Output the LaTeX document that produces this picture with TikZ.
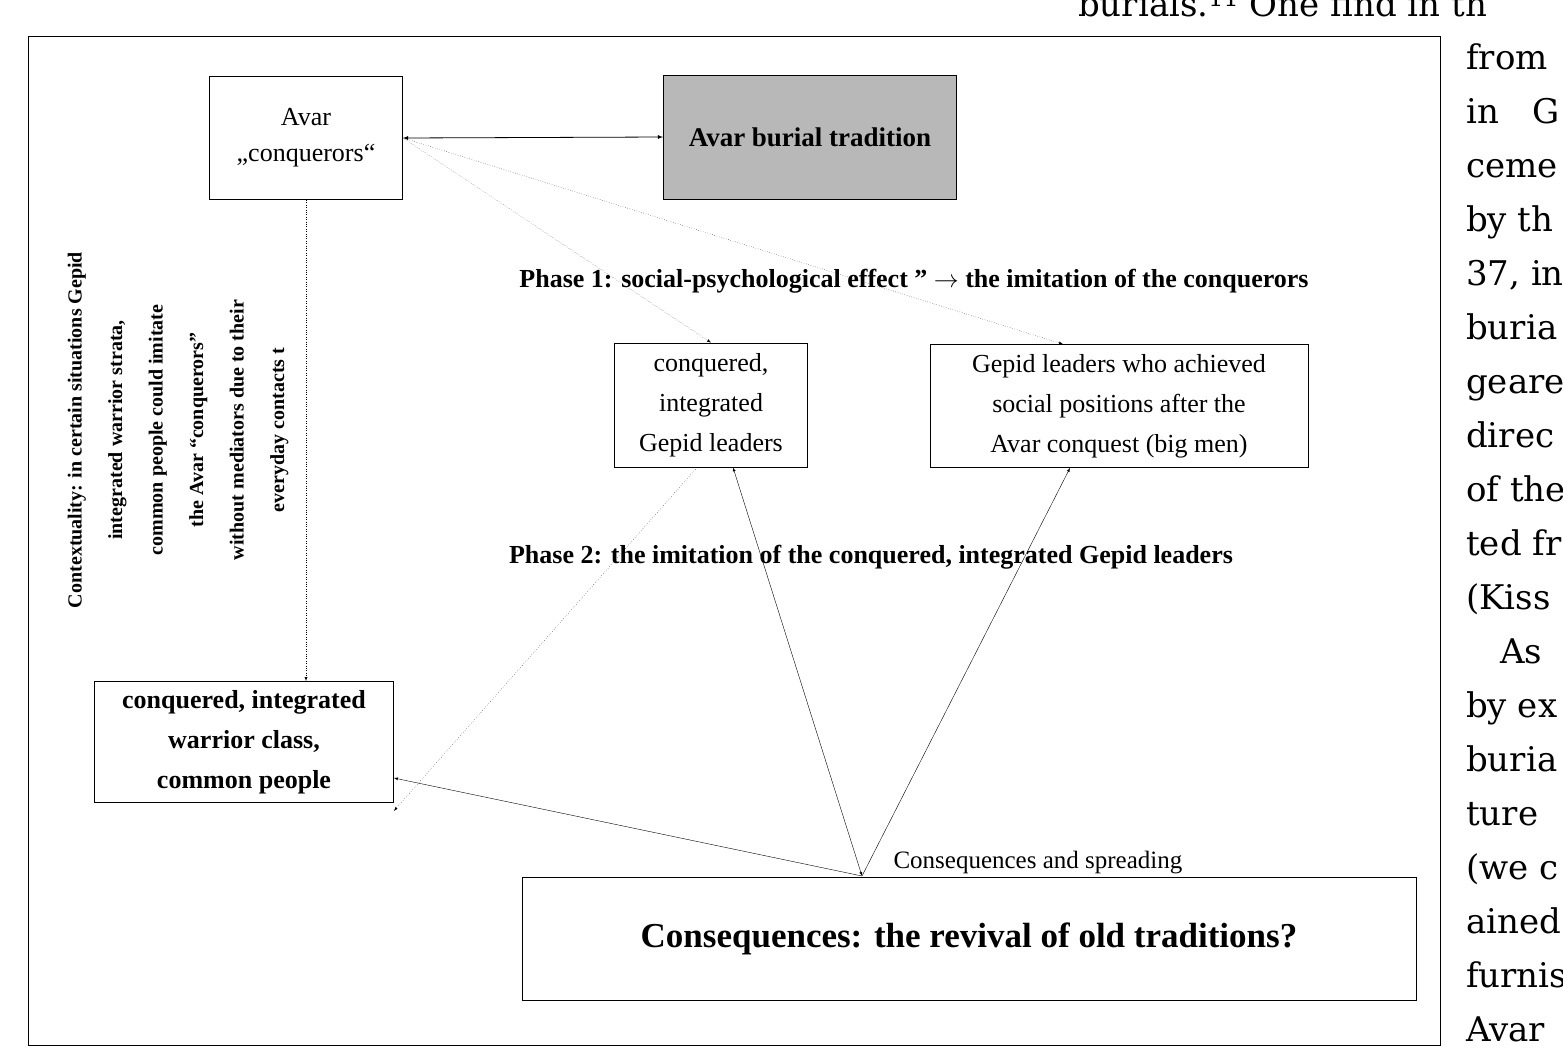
\documentclass[tikz,border=0pt]{standalone}
\usepackage{fontspec}
\setmainfont{Liberation Serif}
\newfontfamily\pagefont{DejaVu Serif}
\usetikzlibrary{positioning}

\begin{document}
\begin{tikzpicture}[x=1pt, y=-1pt, >=latex]
%

%%% frame and page
\useasboundingbox (0,0) rectangle (1563,1047);
\draw [thick] (28,36) rectangle (1440,1045);

%%% nodes and boxes

%%% AVAR
\node [rectangle, draw=black, thick, minimum width=193pt, minimum height=123pt, align=center, font=\fontsize{26}{36}\selectfont] (avar) at (306,138) {Avar\\ „conquerors“};
\node [rectangle, draw=black, thick, fill=black!28, minimum width=293pt, minimum height=124pt, align=center, font=\bfseries\fontsize{27}{36}\selectfont] (tradition) at (810,137) {Avar burial tradition};

%%% PHASE 1
\node [font=\bfseries\fontsize{26}{32}\selectfont] (phase1) at (914,281) {Phase 1: social-psychological effect '' $\rightarrow$ the imitation of the conquerors};

%%% GEPID LEADERS
\node [rectangle, draw=black, thick, minimum width=193pt, minimum height=124pt, align=center, font=\fontsize{26}{40}\selectfont] (gepid) at (711,405) {conquered,\\ integrated\\ Gepid leaders};
\node [rectangle, draw=black, thick, minimum width=378pt, minimum height=123pt, align=center, font=\fontsize{26}{40}\selectfont] (bigmen) at (1119,406) {Gepid leaders who achieved\\ social positions after the\\ Avar conquest (big men)};

%%% PHASE 2
\node [font=\bfseries\fontsize{26}{32}\selectfont] (phase2) at (871,557) {Phase 2: the imitation of the conquered, integrated Gepid leaders};

%%% CONTEXTUALITY
\node [rotate=90, align=center, font=\bfseries\fontsize{20}{40.5}\selectfont] (context) at (178,430) {Contextuality: in certain situations Gepid\\ integrated warrior strata,\\ common people could imitate\\ the Avar “conquerors”\\ without mediators due to their\\ everyday contacts t};

%%% WARRIOR CLASS
\node [rectangle, draw=black, thick, minimum width=299pt, minimum height=121pt, align=center, font=\bfseries\fontsize{26}{40}\selectfont] (warrior) at (244,742) {conquered, integrated\\ warrior class,\\ common people};

%%% CONSEQUENCES
\node [rectangle, draw=black, thick, minimum width=894pt, minimum height=123pt, align=center, font=\bfseries\fontsize{35}{40}\selectfont] (conseq) at (969,939) {Consequences: the revival of old traditions?};
\coordinate (apex) at (862,876);
\node [anchor=base west, font=\fontsize{25}{30}\selectfont] (spread) at (890,868) {Consequences and spreading};

%%% page text
\node [anchor=base west, inner sep=0pt, font=\pagefont\fontsize{34}{40}\selectfont] (burials) at (1078,16) {burials.\textsuperscript{11} One find in th};
\foreach \txt [count=\i from 0] in {from, in\quad G, ceme, by th, {37, in}, buria, geare, direc, of the, ted fr, {(Kiss}, \quad As, by ex, buria, ture, {(we c}, ained, furnis, Avar}
  \node [anchor=base west, inner sep=0pt, font=\pagefont\fontsize{34}{40}\selectfont] (line\i) at (1466,69+54*\i) {\txt};

%%% connections, arrows

\draw [thick, <->] (avar.east) -- (tradition.west);
\draw [dotted, ->] (avar.east) -- (gepid.north);
\draw [dotted, ->] (avar.east) -- (bigmen.north -| 1063,0);
\draw [dotted, ->] (avar.south) -- (warrior.north -| avar.south);
\draw [dotted, ->] (gepid.south west) ++(83,0) -- ([yshift=-8pt]warrior.south east);
\draw [->] (apex) -- ([yshift=-36pt]warrior.east);
\draw [<->] (apex) -- ([xshift=22pt]gepid.south);
\draw [->] (apex) -- ([xshift=-49pt]bigmen.south);

\end{tikzpicture}
\end{document}
